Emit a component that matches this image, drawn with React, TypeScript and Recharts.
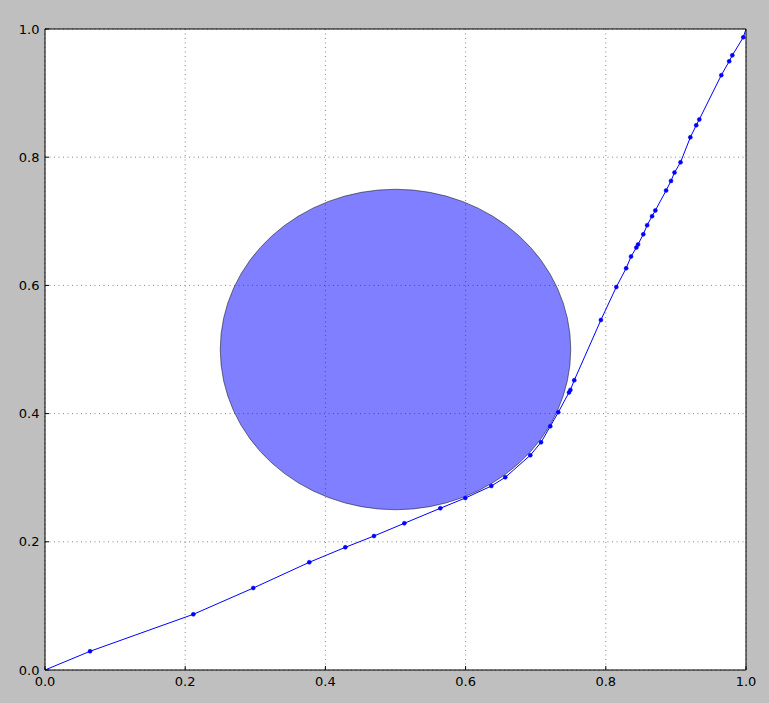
import React from 'react';
import {
  ComposedChart,
  Line,
  XAxis,
  YAxis,
  CartesianGrid,
  ReferenceArea,
} from 'recharts';

// values (x, y in axis units)
const xValues = [
  0, 0.0642, 0.2116, 0.2971, 0.377, 0.4284, 0.4693, 0.5126, 0.5639, 0.5996,
  0.6367, 0.6566, 0.6923, 0.7076, 0.7208, 0.7322, 0.7475, 0.7495, 0.755, 0.793,
  0.815, 0.829, 0.836, 0.8436, 0.846, 0.8535, 0.859, 0.866, 0.8707, 0.886,
  0.893, 0.898, 0.9066, 0.9206, 0.929, 0.9334, 0.9648, 0.976, 0.9805, 0.9961, 1,
];
const yValues = [
  0, 0.0292, 0.0869, 0.1279, 0.168, 0.1914, 0.209, 0.2289, 0.2523, 0.2683,
  0.287, 0.3006, 0.335, 0.3552, 0.3802, 0.402, 0.433, 0.437, 0.452, 0.546,
  0.5975, 0.6267, 0.645, 0.659, 0.664, 0.6797, 0.694, 0.708, 0.717, 0.748,
  0.763, 0.776, 0.792, 0.831, 0.8498, 0.859, 0.928, 0.9496, 0.959, 0.987, 1,
];
const axisTicks = [0, 0.2, 0.4, 0.6, 0.8, 1];
// ellipse: centre (0.5, 0.5), half sizes 0.25
const ellipseBox = { x1: 0.25, x2: 0.75, y1: 0.25, y2: 0.75 };

const data = xValues.map((x, i) => ({ x, y: yValues[i] }));

const FONT = '"DejaVu Sans"';
const TICK = -4; // negative -> ticks point into the plot

const fmt = (v: number) => v.toFixed(1);

const BottomLabel = (props: any) => {
  const { x, y, payload } = props;
  return (
    <text
      x={x}
      y={y + 12}
      textAnchor="middle"
      fill="#000"
      fontFamily={FONT}
      fontSize={13}
    >
      {fmt(payload.value)}
    </text>
  );
};

const LeftLabel = (props: any) => {
  const { x, y, payload } = props;
  return (
    <text
      x={x - 1.5}
      y={y + 4.6}
      textAnchor="end"
      fill="#000"
      fontFamily={FONT}
      fontSize={13}
    >
      {fmt(payload.value)}
    </text>
  );
};

const EllipseShape = (props: any) => {
  const { x, y, width, height } = props;
  return (
    <ellipse
      cx={x + width / 2}
      cy={y + height / 2}
      rx={Math.abs(width) / 2}
      ry={Math.abs(height) / 2}
      fill="#0000ff"
      fillOpacity={0.5}
      stroke="#000"
      strokeOpacity={0.5}
      strokeWidth={1}
    />
  );
};

const PointDot = (props: any) => {
  const { cx, cy, index } = props;
  if (index === 0 || index === data.length - 1) return <g key={`d${index}`} />;
  return <circle key={`d${index}`} cx={cx} cy={cy} r={2} fill="#0000ff" stroke="#0000ff" strokeWidth={0.5} />;
};

const axisLine = { stroke: '#000', strokeWidth: 1 };
const tickLine = { stroke: '#000', strokeWidth: 1 };

export default function App() {
  return (
    <div
      style={{
        position: 'absolute',
        left: 0,
        top: 0,
        width: 769,
        height: 703,
        background: '#bfbfbf',
        fontFamily: '"DejaVu Sans"',
      }}
    >
      <ComposedChart
        width={769}
        height={703}
        data={data}
        margin={{ top: 19, right: 13, left: 5, bottom: 8 }}
      >
        <CartesianGrid
          stroke="#000"
          strokeOpacity={0.6}
          strokeWidth={0.8}
          strokeDasharray="1 3.5"
          fill="#ffffff"
          fillOpacity={1}
        />
        <XAxis
          dataKey="x"
          type="number"
          domain={[0, 1]}
          ticks={axisTicks}
          height={25}
          tickSize={TICK}
          tickMargin={8}
          tickLine={tickLine}
          axisLine={axisLine}
          tick={BottomLabel}
          interval={0}
          allowDataOverflow
        />
        <XAxis
          xAxisId="top"
          orientation="top"
          type="number"
          domain={[0, 1]}
          ticks={axisTicks}
          height={10}
          tickSize={TICK}
          tickLine={tickLine}
          axisLine={axisLine}
          tick={false}
          interval={0}
          allowDataOverflow
        />
        <YAxis
          type="number"
          domain={[0, 1]}
          ticks={axisTicks}
          width={40}
          tickSize={TICK}
          tickMargin={8}
          tickLine={tickLine}
          axisLine={axisLine}
          tick={LeftLabel}
          interval={0}
          allowDataOverflow
        />
        <YAxis
          yAxisId="right"
          orientation="right"
          type="number"
          domain={[0, 1]}
          ticks={axisTicks}
          width={10}
          tickSize={TICK}
          tickLine={tickLine}
          axisLine={axisLine}
          tick={false}
          interval={0}
          allowDataOverflow
        />
        <ReferenceArea
          x1={ellipseBox.x1}
          x2={ellipseBox.x2}
          y1={ellipseBox.y1}
          y2={ellipseBox.y2}
          shape={EllipseShape}
        />
        <Line
          type="linear"
          dataKey="y"
          stroke="#0000ff"
          strokeWidth={1}
          dot={PointDot}
          activeDot={false}
          isAnimationActive={false}
        />
      </ComposedChart>
    </div>
  );
}
